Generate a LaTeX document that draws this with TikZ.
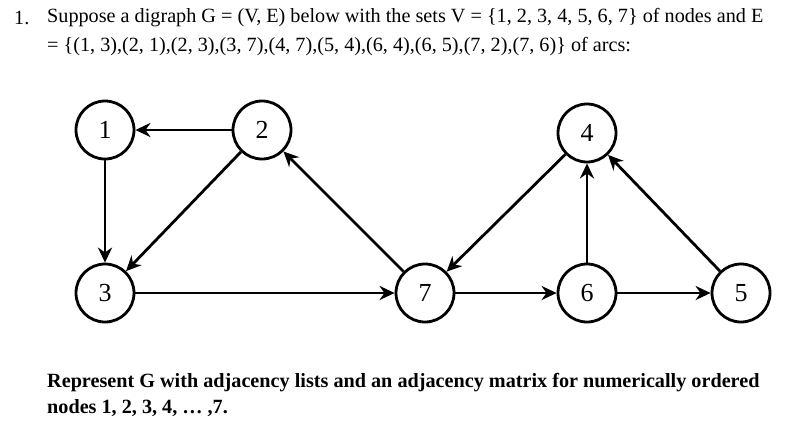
\documentclass[tikz,border=0pt]{standalone}
\usepackage{fontspec}
\setmainfont{Liberation Serif}
\usetikzlibrary{arrows.meta}
\begin{document}
\begin{tikzpicture}[x=1pt,y=-1pt,
  v/.style={circle,draw,line width=2.8pt,minimum size=58pt,inner sep=0pt,font=\fontsize{26}{28}\selectfont},
  e/.style={line width=2.8pt,-{Stealth[length=15pt,width=14pt]}},
  t/.style={anchor=west,inner sep=0pt,font=\fontsize{20.2}{24}\selectfont}]
\useasboundingbox (0,0) rectangle (805,426);
\node[t] (l0) at (14,18) {1.};
\node[t] (l1) at (47,18) {Suppose a digraph G = (V, E) below with the sets V = \{1, 2, 3, 4, 5, 6, 7\} of nodes and E};
\node[t] (l2) at (47,47) {= \{(1, 3),(2, 1),(2, 3),(3, 7),(4, 7),(5, 4),(6, 4),(6, 5),(7, 2),(7, 6)\} of arcs:};
\node[t,font=\fontsize{20.2}{24}\selectfont\bfseries] (b1) at (47,383) {Represent G with adjacency lists and an adjacency matrix for numerically ordered};
\node[t,font=\fontsize{20.2}{24}\selectfont\bfseries] (b2) at (47,408) {nodes 1, 2, 3, 4, … ,7.};
\node[v] (n1) at (105,130) {1};
\node[v] (n2) at (262,130) {2};
\node[v] (n3) at (105,293) {3};
\node[v] (n7) at (425,293) {7};
\node[v] (n6) at (587,293) {6};
\node[v] (n5) at (741,293) {5};
\node[v] (n4) at (587,133) {4};
\draw[e] (n2) -- (n1);
\draw[e] (n1) -- (n3);
\draw[e] (n2) -- (n3);
\draw[e] (n3) -- (n7);
\draw[e] (n7) -- (n2);
\draw[e] (n7) -- (n6);
\draw[e] (n6) -- (n4);
\draw[e] (n5) -- (n4);
\draw[e] (n4) -- (n7);
\draw[e] (n6) -- (n5);
\end{tikzpicture}
\end{document}
